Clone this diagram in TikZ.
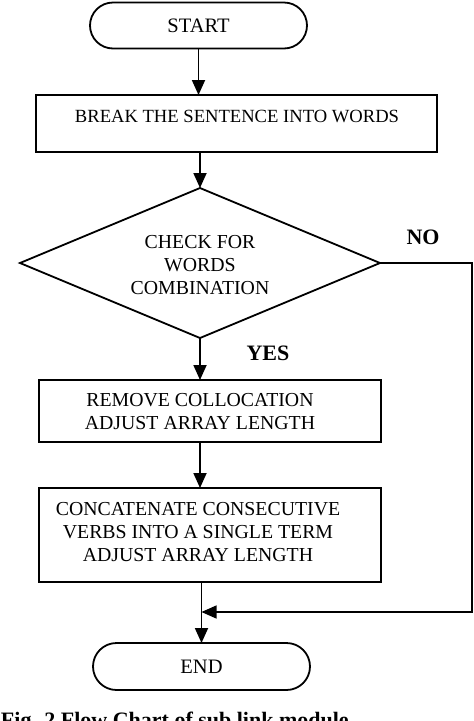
\documentclass[tikz,border=0pt]{standalone}
\usepackage{fontspec}
\setmainfont{Liberation Serif}
\usetikzlibrary{arrows.meta,shapes.misc,shapes.geometric}
\begin{document}
\begin{tikzpicture}[x=1pt,y=-1pt,
  line width=1.8pt,
  every node/.style={font=\fontsize{19.8}{23}\selectfont, inner sep=0pt, outer sep=0pt},
  term/.style={draw, rounded rectangle, minimum width=217pt, minimum height=46pt},
  procbox/.style={draw, rectangle},
  decision/.style={draw, diamond, minimum width=360pt, minimum height=150pt},
  arr/.style={-{Triangle[length=15pt,width=13pt]}},
  lbl/.style={font=\bfseries\fontsize{22}{26}\selectfont}
]
\useasboundingbox (0,0) rectangle (474,721);

\node[term, font=\fontsize{20.5}{24}\selectfont] (start) at (198.5,25.5) {START};

\node[procbox, minimum width=401pt, minimum height=57pt] (b1) at (236.5,123.5) {};
\node[font=\fontsize{18.6}{22}\selectfont] (b1t) at (237,116) {BREAK THE SENTENCE INTO WORDS};

\node[decision] (d) at (200,263) {};
\node[align=center] (dt) at (200,265.5) {CHECK FOR\\WORDS\\COMBINATION};

\node[procbox, minimum width=342pt, minimum height=62pt] (b2) at (210,411) {};
\node[align=center] (b2t) at (200,412) {REMOVE COLLOCATION\\ADJUST ARRAY LENGTH};

\node[procbox, minimum width=342pt, minimum height=94pt] (b3) at (210,535) {};
\node[align=center] (b3t) at (198,532) {CONCATENATE CONSECUTIVE\\VERBS INTO A SINGLE TERM\\ADJUST ARRAY LENGTH};

\node[term, minimum height=47pt, font=\fontsize{20.5}{24}\selectfont] (end) at (201.5,666.5) {END};

\node[lbl] (no) at (423,237) {NO};
\node[lbl] (yes) at (268,353) {YES};

\node[lbl, anchor=base west] (cap) at (1,727.5) {Fig. 2 Flow Chart of sub link module};

\coordinate (nr) at (472,263);
\coordinate (nb) at (472,612);

\draw[arr] (start.south) -- (start.south |- b1.north);
\draw[arr] (d.north |- b1.south) -- (d.north);
\draw[arr] (d.south) -- (d.south |- b2.north);
\draw[arr] (b2.south -| d.south) -- (b3.north -| d.south);
\draw[arr] (b3.south -| end.north) -- (end.north);
\draw[arr, line width=1.4pt] (d.east) -- (nr) -- (nb) -- (nb -| end.north);
\end{tikzpicture}
\end{document}
